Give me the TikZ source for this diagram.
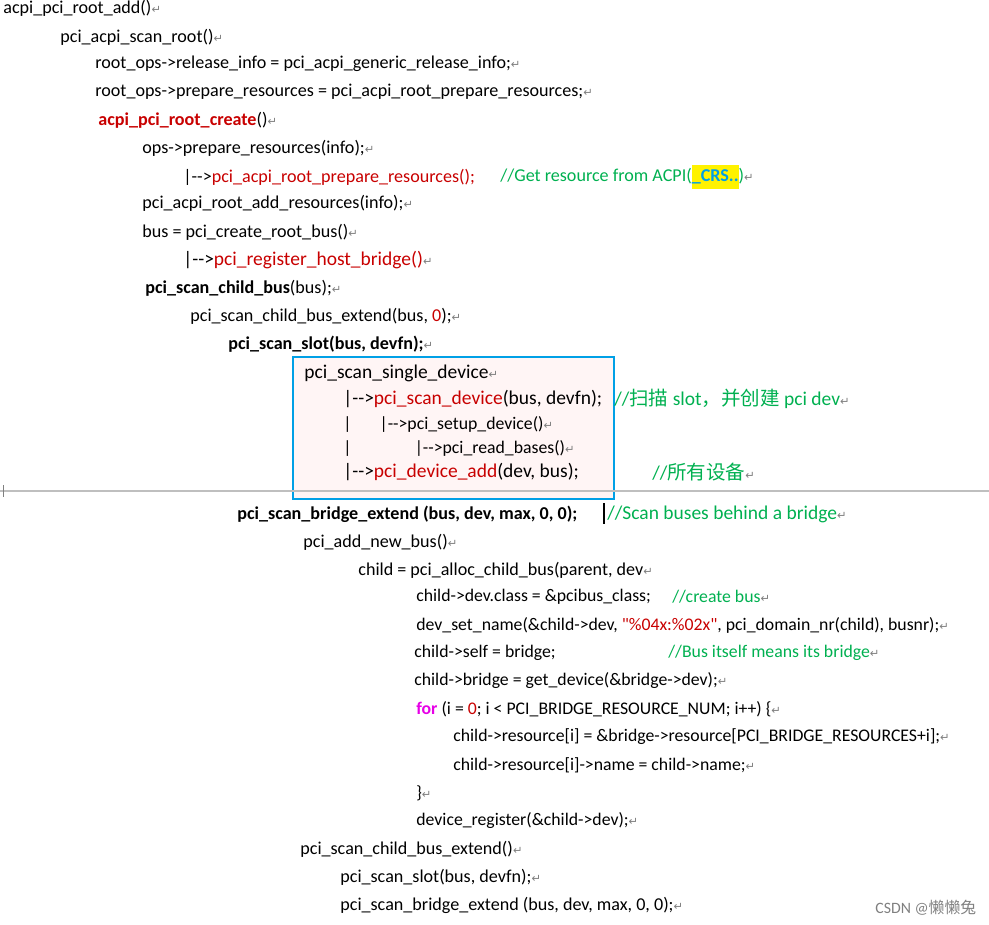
\documentclass[tikz,border=0pt]{standalone}
\usepackage{fontspec}
\newfontfamily\cf{Carlito}
\newfontfamily\dv{DejaVu Sans}
\newfontfamily\cjk{Noto Sans CJK SC}
\definecolor{cred}{RGB}{200,0,0}
\definecolor{cgreen}{RGB}{0,176,80}
\definecolor{cmag}{RGB}{230,0,230}
\definecolor{cblue}{RGB}{0,160,230}
\newcommand{\rt}{\textcolor{gray}{\dv\fontsize{6.5}{7}\selectfont ↵}}
\newcommand{\R}[1]{\textcolor{cred}{#1}}
\newcommand{\G}[1]{\textcolor{cgreen}{#1}}
\begin{document}
\begin{tikzpicture}[x=0.02cm,y=-0.02cm,
  t/.style={anchor=west,inner sep=0pt,font=\cf\fontsize{10.3}{12}\selectfont},
  tl/.style={t,font=\cf\fontsize{11.1}{13}\selectfont},
  ts/.style={t,font=\cf\fontsize{10.1}{12}\selectfont}]
\useasboundingbox (0,0) rectangle (989,924);
\node[t] (l1) at (3,8) {acpi\_pci\_root\_add()\rt};
\node[t] (l2) at (60,37) {pci\_acpi\_scan\_root()\rt};
\node[t] (l3) at (95,64) {root\_ops->release\_info = pci\_acpi\_generic\_release\_info;\rt};
\node[t] (l4) at (95,92) {root\_ops->prepare\_resources = pci\_acpi\_root\_prepare\_resources;\rt};
\node[t] (l5) at (98,120) {\textbf{\R{acpi\_pci\_root\_create}}()\rt};
\node[t] (l6) at (142,148) {ops->prepare\_resources(info);\rt};
\node[t] (l7) at (183,177) {|-->\R{pci\_acpi\_root\_prepare\_resources();}};
\node[t] (c7) at (500,177) {\G{//Get resource from ACPI(}\colorbox{yellow}{\kern-3pt\textbf{\textcolor{cblue}{\_CRS..}}\kern-3pt}\G{)}\rt};
\node[t] (l8) at (142,203) {pci\_acpi\_root\_add\_resources(info);\rt};
\node[t] (l9) at (142,232) {bus = pci\_create\_root\_bus()\rt};
\node[tl] (l10) at (183,260) {|-->\R{pci\_register\_host\_bridge()}\rt};
\node[t] (l11) at (145,288) {\textbf{pci\_scan\_child\_bus}(bus);\rt};
\node[t] (l12) at (190,316) {pci\_scan\_child\_bus\_extend(bus, \R{0});\rt};
\node[t] (l13) at (228,344) {\textbf{pci\_scan\_slot(bus, devfn);}\rt};
\draw[cblue,fill=red!4,line width=0.8pt] (293,357) rectangle (614,499);
\node[tl] (l14) at (304,373) {pci\_scan\_single\_device\rt};
\node[tl] (l15) at (343,399) {|-->\R{pci\_scan\_device}(bus, devfn);};
\node[tl] (c15) at (614,399) {\G{//\cjk 扫描 \cf slot\cjk ，并创建 \cf pci dev}\rt};
\node[ts] (l16) at (343,424) {|\hspace{16pt}|-->pci\_setup\_device()\rt};
\node[ts] (l17) at (343,448) {|\hspace{36pt}|-->pci\_read\_bases()\rt};
\node[tl] (l18) at (343,472) {|-->\R{pci\_device\_add}(dev, bus);};
\node[tl] (c18) at (652,472) {\G{//\cjk 所有设备}\rt};
\draw[gray!50,line width=0.6pt] (0,491) -- (989,491);
\draw[gray] (3,485) -- (3,497);
\node[t] (l19) at (237,514) {\textbf{pci\_scan\_bridge\_extend (bus, dev, max, 0, 0);}};
\draw[black,line width=0.6pt] (604,503) -- (604,524);
\node[tl] (c19) at (607,514) {\G{//Scan buses behind a bridge}\rt};
\node[t] (l20) at (303,542) {pci\_add\_new\_bus()\rt};
\node[t] (l21) at (358,570) {child = pci\_alloc\_child\_bus(parent, dev\rt};
\node[ts] (l22) at (416,597) {child->dev.class = \&pcibus\_class;};
\node[ts] (c22) at (672,597) {\G{//create bus}\rt};
\node[ts] (l23) at (416,625) {dev\_set\_name(\&child->dev, \R{"\%04x:\%02x"}, pci\_domain\_nr(child), busnr);\rt};
\node[ts] (l24) at (414,653) {child->self = bridge;};
\node[ts] (c24) at (668,653) {\G{//Bus itself means its bridge}\rt};
\node[ts] (l25) at (414,681) {child->bridge = get\_device(\&bridge->dev);\rt};
\node[ts] (l26) at (416,709) {\textbf{\textcolor{cmag}{for}} (i = \R{0}; i < PCI\_BRIDGE\_RESOURCE\_NUM; i++) \{\rt};
\node[ts] (l27) at (453,737) {child->resource[i] = \&bridge->resource[PCI\_BRIDGE\_RESOURCES+i];\rt};
\node[ts] (l28) at (453,765) {child->resource[i]->name = child->name;\rt};
\node[ts] (l29) at (416,793) {\}\rt};
\node[ts] (l30) at (416,821) {device\_register(\&child->dev);\rt};
\node[t] (l31) at (300,849) {pci\_scan\_child\_bus\_extend()\rt};
\node[t] (l32) at (340,877) {pci\_scan\_slot(bus, devfn);\rt};
\node[t] (l33) at (340,905) {pci\_scan\_bridge\_extend (bus, dev, max, 0, 0);\rt};
\node[t,text=gray,font=\cf\fontsize{9}{10}\selectfont] (wm) at (875,908) {CSDN @\cjk 懒懒兔};
\end{tikzpicture}
\end{document}
